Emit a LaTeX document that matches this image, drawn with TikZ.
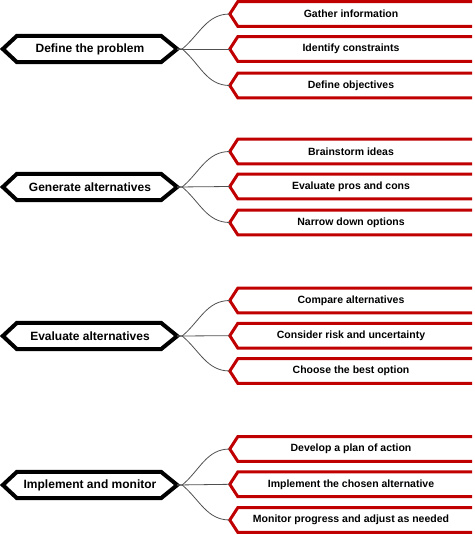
\documentclass[tikz,border=0pt]{standalone}
\usepackage{fontspec}
\setmainfont{Liberation Sans}
\usetikzlibrary{calc}
\definecolor{boxred}{RGB}{192,0,0}
\definecolor{conngray}{RGB}{80,80,80}
\tikzset{
  mainnode/.style={font=\bfseries\fontsize{12}{14}\selectfont, minimum width=174pt, minimum height=25.7pt, inner sep=0pt},
  subnode/.style={font=\bfseries\fontsize{10.5}{12}\selectfont, minimum width=242pt, minimum height=24.3pt, inner sep=0pt},
  mainline/.style={draw=black, line width=4pt, line join=miter},
  subline/.style={draw=boxred, line width=3pt, line join=miter},
  connline/.style={draw=conngray, line width=0.8pt}
}
\newcommand\mainbox[3]{%
  \node[mainnode] (#1) at (90,#2) {#3};
  \draw[mainline] (#1.west) -- ([xshift=14pt]#1.north west) -- ([xshift=-16pt]#1.north east) -- (#1.east) -- ([xshift=-16pt]#1.south east) -- ([xshift=14pt]#1.south west) -- cycle;
}
\newcommand\subbox[3]{%
  \node[subnode] (#1) at (351,#2) {#3};
  \draw[subline] (#1.north east) -- ([xshift=8pt]#1.north west) -- (#1.west) -- ([xshift=8pt]#1.south west) -- (#1.south east);
}
\begin{document}
\begin{tikzpicture}[x=1pt,y=1pt]
\useasboundingbox (0,0) rectangle (474,-535);
% group 1
\mainbox{m1}{-49}{Define the problem}
\subbox{s1a}{-14}{Gather information}
\subbox{s1b}{-49}{Identify constraints}
\subbox{s1c}{-85.5}{Define objectives}
% group 2
\mainbox{m2}{-187}{Generate alternatives}
\subbox{s2a}{-151.5}{Brainstorm ideas}
\subbox{s2b}{-186.5}{Evaluate pros and cons}
\subbox{s2c}{-222.5}{Narrow down options}
% group 3
\mainbox{m3}{-336}{Evaluate alternatives}
\subbox{s3a}{-300.5}{Compare alternatives}
\subbox{s3b}{-335.7}{Consider risk and uncertainty}
\subbox{s3c}{-371}{Choose the best option}
% group 4
\mainbox{m4}{-485}{Implement and monitor}
\subbox{s4a}{-449}{Develop a plan of action}
\subbox{s4b}{-484.3}{Implement the chosen alternative}
\subbox{s4c}{-520}{Monitor progress and adjust as needed}
% connectors
\foreach \m in {1,2,3,4}{
  \draw[connline] (m\m.east) -- ++(5,0) to[out=40,in=180] (s\m a.west);
  \draw[connline] (m\m.east) -- (s\m b.west);
  \draw[connline] (m\m.east) -- ++(5,0) to[out=-40,in=180] (s\m c.west);
}
\end{tikzpicture}
\end{document}
